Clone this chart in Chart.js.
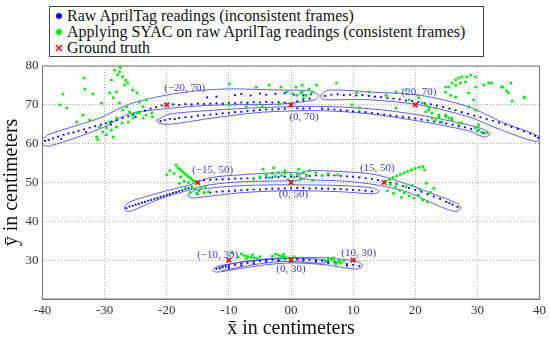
<!DOCTYPE html>
<html>
<head>
<meta charset="utf-8">
<script src="https://cdn.jsdelivr.net/npm/chart.js@4.4.1/dist/chart.umd.min.js"></script>
<style>
html,body{margin:0;padding:0;background:#fff;}
#wrap{position:relative;width:550px;height:343px;}
#legend{position:absolute;left:49px;top:6px;width:435px;height:51px;border:1.5px solid #444;box-sizing:border-box;background:#fff;
  font-family:'Liberation Serif','DejaVu Serif',serif;font-size:16px;color:#111;padding:1px 0 0 3px;z-index:2;}
.row{display:flex;align-items:center;height:16px;line-height:16px;white-space:nowrap;}
.mk{width:12px;display:flex;justify-content:center;align-items:center;margin-right:2px;}
.dot{width:6px;height:6px;border-radius:50%;}
.cross{color:#f00;font-size:12px;font-family:'DejaVu Sans',sans-serif;font-weight:bold;}
canvas{position:absolute;left:0;top:0;}
</style>
</head>
<body>
<div id="wrap">
  <div id="legend">
    <div class="row"><span class="mk"><span class="dot" style="background:#0000ff"></span></span>Raw AprilTag readings (inconsistent frames)</div>
    <div class="row"><span class="mk"><span class="dot" style="background:#00ee00"></span></span>Applying SYAC on raw AprilTag readings (consistent frames)</div>
    <div class="row"><span class="mk"><span class="cross">×</span></span>Ground truth</div>
  </div>
  <canvas id="c" width="550" height="343"></canvas>
</div>
<script>
// ---------- tick labels ----------
const xTickLabels = ['-40','-30','-20','-10','00','10','20','30','40'];
const yTickLabels = ['','30','40','50','60','70','80'];

// ---------- ground truth ----------
const gtX = [-20, 0, 20, -15, 0, 15, -10, 0, 10];
const gtY = [70, 70, 70, 50, 50, 50, 30, 30, 30];
const gtText = ['(−20, 70)','(0, 70)','(20, 70)','(−15, 50)','(0, 50)','(15, 50)','(−10, 30)','(0, 30)','(10, 30)'];
const gtLabelX = [-17.1, 2.1, 20.6, -12.6, 0.4, 13.9, -11.8, 0.0, 10.9];
const gtLabelY = [74.3, 66.9, 73.3, 53.3, 47.0, 53.8, 31.4, 27.8, 31.9];

// ---------- raw readings (blue) ----------
const rawRow70 = [
 [-39.6,60.7],[-39,61.0],[-38.3,61.4],[-37.5,61.8],[-37,61.2],[-36.6,62.3],[-35.8,62.6],[-35,62.9],[-34.2,63.3],[-33.3,63.7],[-33,63.0],[-32.4,64.1],
 [-31.5,64.5],[-30.6,64.9],[-29.8,65.3],[-29,64.9],[-28.9,65.7],[-28,66.1],[-27.1,66.6],[-26.2,67.0],[-25.3,67.5],[-25,66.9],[-24.4,68.0],[-23.5,68.5],
 [-22.6,69.0],[-21.7,69.4],[-20.8,69.8],[-19,70.1],[-18,70.0],[-17,70.2],[-16,70.1],[-15,70.3],[-14,70.2],[-13,70.3],[-12,70.4],[-11,70.3],
 [-10,70.5],[-9,70.4],[-8,70.6],[-7,70.5],[-6,70.7],[-5,70.6],[-4,70.8],[-3,70.6],[-2,70.7],[-1,70.6],[1,70.9],[2,71.2],[3,71.6],
 [-13.5,71.9],[-12,72.1],[-9,72.5],[-8,72.8],[-6.5,72.4],[-5,72.9],[-4,72.6],[-2.5,72.8],[-1,73.0],[0.5,72.6],[2,72.5],[3.2,72.7],
 [-21,65.8],[-20.3,66.1],[-19.5,66.4],[-18.7,66.3],[-18,66.6],[-17,66.8],[-16,66.9],[-15,67.2],[-14,67.3],[-13,67.5],[-12,67.6],[-11,67.8],
 [-10,67.9],[-9,68.1],[-8,68.2],[-7,68.4],[-6,68.5],[-5,68.7],[-4,68.8],[-3,68.8],[-2,68.9],[-1,69.0],[1,69.1],[2,69.0],[3,69.1],[5,69.0],
 [6,68.9],[7,68.8],[8,68.6],[9,68.5],[10,68.3],[11,68.2],[12,68.1],[13,67.9],[14,67.7],[15,67.5],[16,67.3],[17,67.1],[18,66.9],[19,66.7],
 [20,66.5],[21,66.2],[22,66.0],[23,65.7],[24,65.5],[25,65.2],[26,64.9],[27,64.5],[28,64.2],[29,63.8],[30,63.3],[31,62.7],
 [5.5,72.3],[6.5,72.6],[7.5,72.7],[8.5,72.5],[9.5,72.6],[10.5,72.4],[11.5,72.5],[12.5,72.3],[13.5,72.1],[14.5,72.0],[15.5,71.8],[16.5,71.6],
 [17.5,71.4],[18.5,71.1],[19.5,71.0],[20.5,70.7],[21.5,70.4],[22.5,70.1],[23.5,69.8],[24.5,69.4],[25.5,69.0],[26.5,68.6],[27.5,68.1],[28.5,67.7],
 [29.5,67.2],[30.5,66.8],[31.5,66.3],[32.5,65.9],[33.5,65.4],[34.5,64.9],[35.5,64.3],[36.5,63.8],[37.5,63.2],[38.5,62.6],[39.3,62.0],[39.8,61.5]
];
const rawRow50 = [
 [-26.5,43.4],[-26,43.8],[-25.5,44.0],[-25,44.3],[-24.5,44.5],[-24,44.8],[-23.5,45.0],[-23,45.3],[-22.5,45.5],[-22,45.8],[-21.5,46.0],[-21,46.3],
 [-20.5,46.5],[-20,46.8],[-19.5,47.0],[-19,47.3],[-18.5,47.5],[-18,47.8],[-17.5,48.0],[-17,48.3],[-16.5,48.5],[-16,48.7],[-14,50.6],[-13,50.7],
 [-12,50.8],[-11,50.8],[-10,50.9],[-9,51.0],[-8,51.0],[-7,51.1],[-6,51.1],[-5,51.2],[-4,51.3],[-3,51.3],[-2,51.4],[-1,51.5],[0,51.5],[1,51.6],
 [-15,47.0],[-14,47.3],[-13,47.4],[-12,47.6],[-11,47.7],[-10,47.8],[-9,47.9],[-8,48.0],[-7,48.1],[-6,48.2],[-5,48.2],[-4,48.3],[-3,48.4],[-2,48.4],
 [-1,48.5],[0,48.5],[1,48.6],[2,48.6],[3,48.5],[4,48.5],[5,48.4],[6,48.4],[7,48.3],[8,48.3],[9,48.2],[10,48.1],[11,48.0],[12,47.9],[13,47.7],
 [3,51.7],[4,51.8],[5,51.8],[6,51.8],[7,51.8],[8,51.7],[9,51.6],[10,51.5],[11,51.3],[12,51.1],[13,50.9],[14,50.6],[16,49.9],[17,49.5],
 [18,49.1],[19,48.6],[20,48.1],[21,47.6],[22,47.0],[23,46.4],[24,45.8],[25,45.0],[25.5,44.7],[26,44.3],[26.8,43.7]
];
const rawRow30 = [
 [-12,27.8],[-11.5,28.0],[-11,28.2],[-10.5,28.3],[-10,28.5],[-9,28.8],[-8,29.1],[-7,29.3],[-6,29.6],[-5,29.8],[-4,30.0],[-3,30.1],[-2,30.2],
 [-1,30.3],[0,30.3],[1,30.2],[2,30.2],[3,30.1],[4,30.0],[5,29.8],[6,29.6],[7,29.4],[8,29.2],[9,29.0],[10,28.8],[11,28.5],
 [-10,28.0],[-8,28.6],[-6,29.1],[-4,29.5],[-2,29.8],[2,29.9],[4,29.6],[6,29.2],[9,28.6]
];

// ---------- SYAC readings (green) ----------
const syacRow70 = [
 [-37.2,70.0],[-36.7,72.8],[-36.1,69.2],[-33.3,76.9],[-33.2,74.1],[-31.9,72.8],[-30.5,70.5],[-28.9,76.4],[-28.4,79.0],[-27.6,78.5],[-27.1,77.2],
 [-26.8,75.1],[-26.3,75.6],[-28.1,73.3],[-29.2,73.1],[-28.6,71.8],[-27.6,70.5],[-25.5,73.8],[-24.8,73.1],[-27.1,68.7],[-26.0,68.2],[-24.4,67.9],
 [-23.3,67.4],[-22.3,66.9],[-28.1,66.6],[-29.2,65.6],[-30.8,64.3],[-30.3,63.0],[-31.3,61.7],[-31.1,61.0],[-29.7,64.1],[-28.9,63.5],[-28.1,64.3],
 [-27.2,65.3],[-26.2,65.6],[-25.4,66.6],[-24.8,67.9],[-23.8,69.5],[-24.4,70.7],[-23.3,71.3],[-26.4,69.5],[-25.6,67.4],[-23.8,66.6],[-22.4,67.9],
 [-33.5,67.4],[-32.4,66.1],[-34.5,65.6],[-29.7,62.3],[-28.6,61.7],[-27.5,79.6],[-27.9,77.8],[-26.6,76.3],
 [-9.9,75.4],[-5.6,74.6],[-3.5,75.1],[0.8,74.6],[1.8,73.3],[2.9,74.1],[4.1,75.1],[-5.6,70.0],[-4.6,69.5],[-1.9,70.2],[-9.9,70.0],[-7.2,69.5],
 [1.8,75.1],[3.4,73.3],[1.6,73.1],[2.4,72.5],[1.0,72.5],[7.3,75.6],[10.6,73.1],[9.8,70.0],[-1.6,74.6],[0.2,72.9],[-0.6,73.4],[2.0,71.8],
 [22.2,69.2],[21.7,68.2],[22.7,67.9],[23.8,66.9],[24.9,67.4],[25.4,66.6],[23.3,66.1],[24.3,65.6],[25.9,66.1],[21.1,70.5],[27.5,65.3],[30.2,63.5],
 [31.5,62.8],[29.7,68.7],[28.6,69.5],[24.9,73.3],[25.4,74.6],[25.9,75.6],[26.5,76.4],[27.0,76.9],[27.5,77.2],[28.3,77.2],[28.9,77.7],[29.7,77.2],
 [26.5,75.1],[27.3,75.6],[28.1,75.9],[25.7,72.5],[26.5,72.0],[28.6,73.1],[29.4,71.3],[29.7,74.6],[31.8,75.6],[33.9,74.6],[35.4,75.6],[35.0,73.1],
 [37.5,72.0],[16.9,73.3],[18.5,73.8],[15.3,72.5],[31.0,75.1],[32.3,75.6],[34.1,74.6],[34.7,73.6],[35.6,71.0],[37.6,71.8],
 [19.0,71.3],[20.6,71.8],[21.7,70.0],[22.2,68.7],[23.3,69.2],[23.8,67.4],[24.9,66.9],[25.9,66.6],[22.7,66.6],[27.0,65.3],[29.7,64.1],[30.7,63.0],
 [30.2,64.8],[16.9,69.2],[11.0,69.2],[12.6,73.3],[24.9,74.6]
];
const syacRow50 = [
 [-18.5,54.5],[-18.2,53.8],[-17.9,53.5],[-17.6,53.0],[-17.3,52.6],[-17.0,52.2],[-16.7,51.8],[-16.4,51.4],[-16.1,51.0],[-15.8,50.6],[-15.5,50.2],
 [-19.5,53.0],[-20.0,52.0],[-18.8,52.3],[-17.8,51.5],[-16.5,50.0],[-16.0,49.0],[-15.5,48.3],[-14.8,47.8],[-14.0,47.5],[-13.3,47.6],[-15.2,47.2],
 [-16.2,47.5],[-17.0,48.6],[-14.5,48.8],[-13.8,49.0],[-17.2,50.4],[-18.0,49.8],
 [-5.0,51.5],[-4.0,52.0],[-3.0,52.3],[-2.0,52.6],[-1.0,52.5],[0.0,52.0],[1.0,52.2],[2.0,52.7],[3.0,53.0],[-3.5,51.2],[-2.5,51.6],[-1.5,51.8],
 [0.5,51.5],[1.5,51.0],[2.5,51.8],[-4.5,53.5],[-2.8,53.8],[4.0,52.5],[5.0,51.8],[6.0,52.3],[-6.0,50.9],[-0.5,50.8],[3.5,50.6],[7.5,52.0],
 [-1.0,53.0],[1.2,53.4],
 [15.2,50.3],[15.8,50.8],[16.4,51.3],[17.0,51.7],[17.6,52.1],[18.2,52.5],[18.8,52.9],[19.4,53.3],[20.0,53.6],[20.6,53.9],[21.2,54.1],[21.5,53.2],
 [16.0,49.5],[16.8,48.8],[17.5,48.0],[18.2,47.3],[19.0,46.6],[19.8,46.0],[20.5,46.8],[21.2,45.5],[22.0,45.0],[17.0,49.8],[18.5,49.0],[19.5,49.3],
 [20.8,48.2],[22.4,47.5],[23.0,48.5],[16.5,47.2],[17.8,46.2],[15.5,47.9],[21.8,49.8]
];
const syacRow30 = [
 [-8.0,31.6],[-7.5,31.2],[-7.0,31.0],[-6.5,30.8],[-6.0,30.6],[-5.5,30.4],[-7.2,30.4],[-6.2,31.4],[-5.0,30.9],[-8.5,30.8],[-9.5,31.9],
 [-2.5,31.6],[-2.0,31.3],[-1.5,31.0],[-1.0,30.8],[-0.5,30.6],[0.0,30.4],[-1.8,30.5],[-1.2,31.5],[-3.0,31.0],[0.5,30.9],
 [6.0,30.4],[6.5,30.1],[7.0,29.8],[7.5,29.5],[8.0,29.3],[6.8,30.6],[7.8,30.0],[5.5,29.9],[8.5,29.8],[7.2,29.0]
];

// ---------- cluster outlines (data units) ----------
const capA = [[-40.1,61.2],[-38.8,62.5],[-30.8,66.6],[-26.0,70.2],[-20.7,72.3],[-15.2,73.6],[-9.9,74.1],[-1.9,73.8],[2.9,73.6],[4.5,72.5],
 [3.9,71.3],[-1.9,70.2],[-9.9,70.0],[-15.2,69.7],[-20.7,68.9],[-26.0,67.7],[-30.8,63.8],[-38.8,59.4],[-39.9,59.7],[-40.1,61.2]];
const capB = [[-21.6,66.1],[-19.5,67.6],[-12.6,68.6],[-4.6,69.3],[4.5,69.6],[12.6,69.0],[20.6,67.4],[28.6,64.8],[31.3,63.5],[32.0,62.5],
 [31.2,61.7],[28.6,63.3],[20.6,65.8],[12.6,67.7],[4.5,68.5],[-4.6,68.1],[-12.6,66.6],[-19.5,65.0],[-21.3,65.3],[-21.6,66.1]];
const capC = [[4.8,72.5],[6.1,73.8],[12.6,73.3],[20.6,72.5],[28.6,69.5],[33.9,65.6],[39.4,62.3],[40.3,61.2],
 [39.4,60.5],[33.9,63.5],[28.6,66.9],[20.6,70.0],[12.6,71.3],[6.1,71.3],[5.0,71.5],[4.8,72.5]];
const capD = [[-26.8,43.8],[-26.0,45.0],[-21.1,47.4],[-16.3,49.4],[-13.1,51.2],[-7.8,52.0],[-2.4,52.5],[0.8,52.5],[2.5,52.0],
 [1.8,50.7],[-2.4,50.4],[-7.8,50.2],[-13.1,49.4],[-16.3,48.1],[-21.1,45.8],[-26.0,42.5],[-26.8,43.0],[-26.8,43.8]];
const capE = [[-16.6,46.8],[-15.2,48.1],[-7.8,49.2],[0.2,49.4],[8.2,49.2],[13.1,48.6],[14.2,47.6],
 [13.1,47.1],[8.2,47.6],[0.2,47.9],[-7.8,47.4],[-15.2,46.1],[-16.3,46.1],[-16.6,46.8]];
const capF = [[1.3,52.0],[2.5,53.0],[8.2,52.8],[13.7,52.0],[19.0,49.4],[23.3,46.8],[26.5,44.8],[27.3,43.5],
 [26.5,42.5],[23.3,44.3],[19.0,47.4],[13.7,49.4],[8.2,50.4],[2.9,50.7],[1.7,51.2],[1.3,52.0]];
const capG = [[-12.6,27.4],[-12.0,28.3],[-8.8,29.3],[-4.0,30.3],[0.2,30.7],[5.6,30.6],[9.9,29.9],[11.2,29.3],[11.5,28.3],
 [10.4,27.7],[5.6,28.8],[0.2,29.3],[-4.0,28.8],[-8.8,27.7],[-12.0,26.9],[-12.6,27.4]];
const capH = [[-11.5,27.8],[-11,28.5],[-8,29.5],[-4,30.2],[0,30.4],[4,30.3],[6,29.8],
 [5,29.2],[0,29.7],[-4,29.3],[-8,28.3],[-11,27.4],[-11.5,27.8]];

// ---------- build ----------
const pts = a => a.map(p => ({x:p[0], y:p[1]}));
const SERIF = "'Liberation Serif','DejaVu Serif',serif";

const outlineSets = [capA,capB,capC,capD,capE,capF,capG,capH].map(c => ({
  type:'scatter', data: pts(c), showLine:true, borderColor:'rgba(55,55,235,0.8)', borderWidth:1,
  pointRadius:0, fill:false, tension:0.3, order:3
}));

const datasets = [
  {label:'Ground truth', data: gtX.map((x,i)=>({x, y:gtY[i]})), pointStyle:'crossRot', pointRadius:3.2,
   borderColor:'#ff0000', backgroundColor:'#ff0000', pointBorderWidth:1.6, order:0},
  {label:'SYAC', data: pts([...syacRow70, ...syacRow50, ...syacRow30]), pointRadius:1.5, pointBorderWidth:0,
   backgroundColor:'#00ee00', borderColor:'#00ee00', order:1},
  {label:'Raw', data: pts([...rawRow70, ...rawRow50, ...rawRow30]), pointRadius:1.1, pointBorderWidth:0,
   backgroundColor:'#0000ff', borderColor:'#0000ff', order:2},
  ...outlineSets
];

const annot = {
  id:'annot',
  afterDatasetsDraw(chart){
    const {ctx, scales:{x, y}} = chart;
    ctx.save();
    ctx.font = "11px " + SERIF;
    ctx.fillStyle = '#3a3ad8';
    ctx.textAlign = 'center';
    ctx.textBaseline = 'middle';
    gtText.forEach((t,i) => ctx.fillText(t, x.getPixelForValue(gtLabelX[i]), y.getPixelForValue(gtLabelY[i])));
    ctx.restore();
  }
};
const frame = {
  id:'frame',
  afterDraw(chart){
    const {ctx, chartArea:a} = chart;
    ctx.save();
    ctx.strokeStyle = '#777';
    ctx.lineWidth = 1;
    ctx.strokeRect(a.left, a.top, a.right - a.left, a.bottom - a.top);
    ctx.restore();
  }
};

new Chart(document.getElementById('c'), {
  type:'scatter',
  data:{datasets},
  plugins:[annot, frame],
  options:{
    responsive:false, animation:false,
    layout:{padding:{top:66, right:9, left:0, bottom:0}},
    plugins:{legend:{display:false}, tooltip:{enabled:false}},
    scales:{
      x:{
        type:'linear', min:-40, max:40,
        ticks:{stepSize:10, autoSkip:false, maxRotation:0, padding:4, color:'#333',
          font:{family:SERIF, size:13}, callback:(v, i)=>xTickLabels[i]},
        grid:{color:'#a8a8a8', drawTicks:false, lineWidth:1},
        border:{display:true, color:'#777', dash:[1,2]},
        title:{display:true, text:'x̄ in centimeters', color:'#111', font:{family:SERIF, size:20}, padding:{top:2, bottom:2}},
        afterFit(s){ s.height = 44; }
      },
      y:{
        type:'linear', min:20, max:80,
        ticks:{stepSize:10, autoSkip:false, padding:4, color:'#333', font:{family:SERIF, size:13},
          callback:(v, i)=> yTickLabels[i]},
        grid:{color:'#a8a8a8', drawTicks:false, lineWidth:1},
        border:{display:true, color:'#777', dash:[1,2]},
        title:{display:true, text:'ȳ in centimeters', color:'#111', font:{family:SERIF, size:20}, padding:{top:0, bottom:2}},
        afterFit(s){ s.width = 42.5; }
      }
    }
  }
});
</script>
</body>
</html>
